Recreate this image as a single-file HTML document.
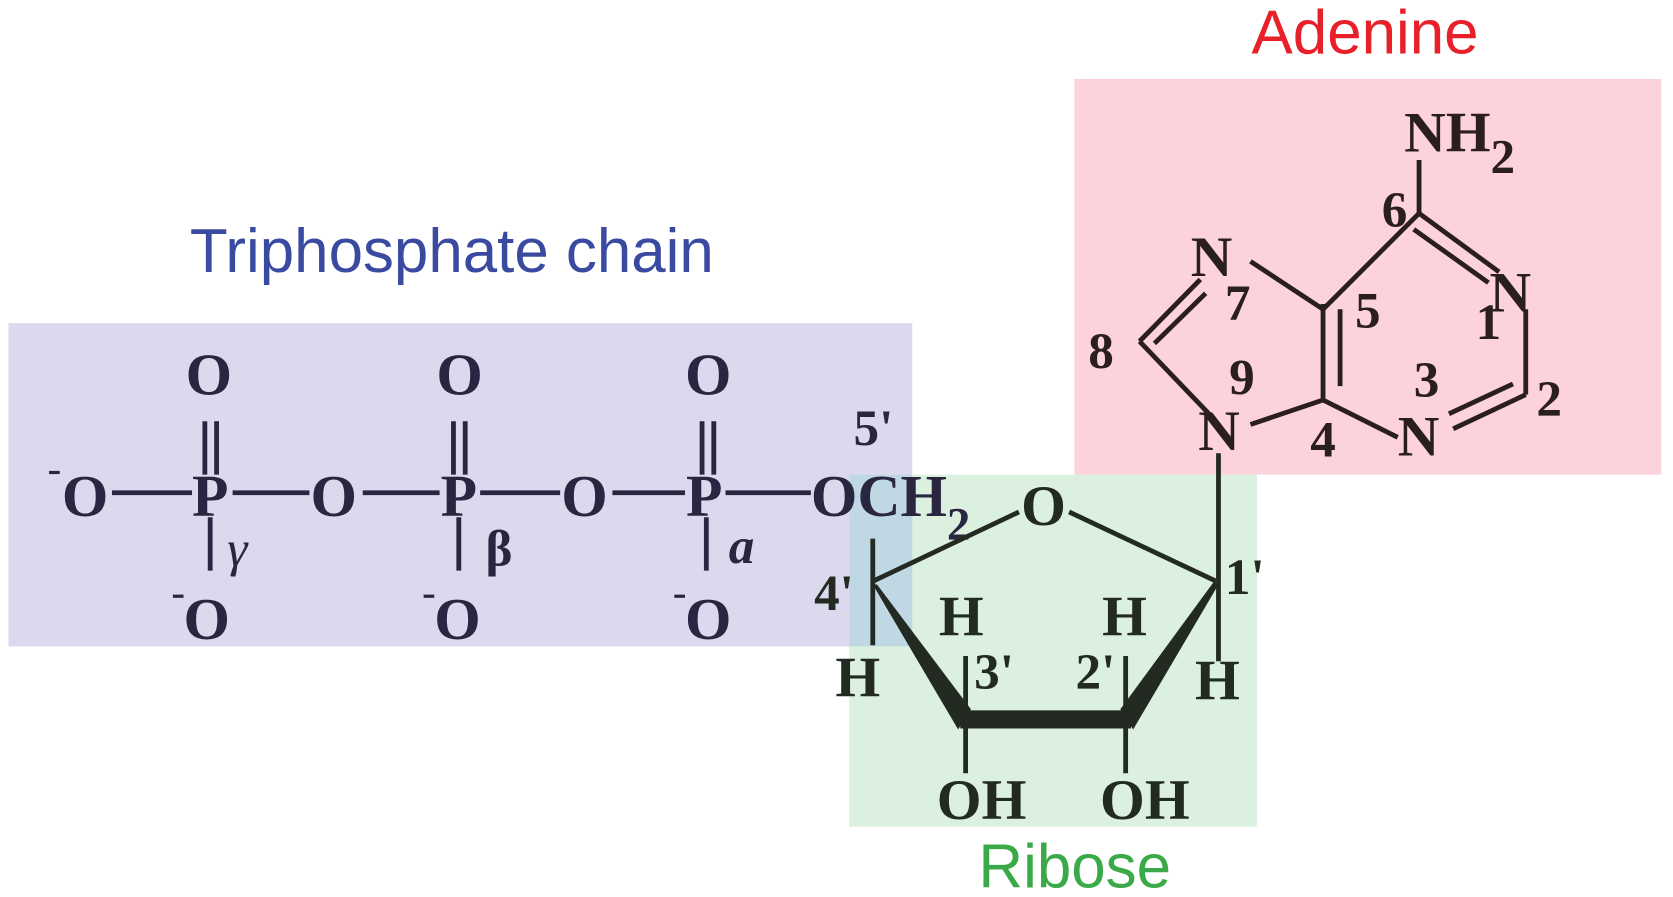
<!DOCTYPE html>
<html><head><meta charset="utf-8"><style>
html,body{margin:0;padding:0;background:#fff}
svg{display:block}
.c{font-family:"Liberation Serif",serif;font-weight:bold;font-size:56px;fill:#2a2540}
.r{font-family:"Liberation Serif",serif;font-weight:bold;font-size:54px;fill:#222a22}
.a{font-family:"Liberation Serif",serif;font-weight:bold;font-size:54px;fill:#2a1e20}
.t{font-family:"Liberation Sans",sans-serif;font-size:58px}
</style></head><body>
<svg width="1673" height="897" viewBox="0 0 1568 841" preserveAspectRatio="none">
<rect x="8" y="303" width="847" height="303" fill="#dcd8ee"/>
<rect x="1007" y="74" width="550" height="371" fill="#fcd3da"/>
<rect x="796" y="445" width="382" height="330" fill="#dbf0df"/>
<rect x="796" y="445" width="59" height="161" fill="#c0d8e4"/>
<text class="t" x="178" y="255" fill="#3a4aa0">Triphosphate chain</text>
<text class="t" x="1173" y="50" fill="#e8202a">Adenine</text>
<text class="t" x="917" y="832" fill="#3aaa48">Ribose</text>
<g stroke="#2a2540" stroke-width="4.5" fill="none">
<line x1="105" y1="462" x2="180" y2="462"/><line x1="218" y1="462" x2="290" y2="462"/>
<line x1="340" y1="462" x2="412" y2="462"/><line x1="450" y1="462" x2="525" y2="462"/>
<line x1="574" y1="462" x2="642" y2="462"/><line x1="680" y1="462" x2="760" y2="462"/>
<line x1="192" y1="395" x2="192" y2="445"/><line x1="203" y1="395" x2="203" y2="445"/>
<line x1="425" y1="395" x2="425" y2="445"/><line x1="436" y1="395" x2="436" y2="445"/>
<line x1="658" y1="395" x2="658" y2="445"/><line x1="669" y1="395" x2="669" y2="445"/>
<line x1="197" y1="485" x2="197" y2="535"/><line x1="430" y1="485" x2="430" y2="535"/><line x1="662" y1="485" x2="662" y2="535"/>
</g>
<g stroke="#2a2540" stroke-width="3">
<line x1="46" y1="443" x2="56" y2="443"/>
<line x1="162" y1="559" x2="172" y2="559"/>
<line x1="397" y1="559" x2="407" y2="559"/>
<line x1="632" y1="559" x2="642" y2="559"/>
</g>
<g class="c">
<text x="174" y="370">O</text><text x="409" y="370">O</text><text x="642" y="370">O</text>
<text x="58" y="484">O</text><text x="180" y="484">P</text><text x="291" y="484">O</text>
<text x="413" y="484">P</text><text x="526" y="484">O</text><text x="643" y="484">P</text>
<text x="760" y="484">OCH<tspan font-size="44" dy="22">2</tspan></text>
<text x="213" y="530" font-weight="normal" font-style="italic" font-size="48">γ</text>
<text x="455" y="530" font-size="48">β</text>
<text x="683" y="528" font-style="italic" font-size="48">a</text>
<text x="172" y="599">O</text><text x="407" y="599">O</text><text x="642" y="599">O</text>
<text x="800" y="417" font-size="48">5'</text>
</g>
<g stroke="#222a22" stroke-width="4.5" fill="none">
<line x1="818" y1="545" x2="955" y2="480"/><line x1="1002" y1="480" x2="1140" y2="545"/>
<line x1="818" y1="505" x2="818" y2="605"/><line x1="1142" y1="425" x2="1142" y2="620"/>
<line x1="905" y1="615" x2="905" y2="725"/><line x1="1055" y1="615" x2="1055" y2="725"/>
</g>
<polygon points="818,548 822,548 910,665 898,684" fill="#222a22"/>
<rect x="900" y="666" width="160" height="17" fill="#222a22"/>
<polygon points="1138,545 1142,548 1062,684 1050,665" fill="#222a22"/>
<g class="r">
<text x="957" y="492">O</text>
<text x="763" y="572" font-size="48">4'</text>
<text x="783" y="653">H</text><text x="880" y="596">H</text><text x="1033" y="596">H</text>
<text x="913" y="646" font-size="48">3'</text><text x="1008" y="646" font-size="48">2'</text>
<text x="1148" y="557" font-size="48">1'</text><text x="1120" y="656">H</text>
<text x="878" y="768">OH</text><text x="1031" y="768">OH</text>
</g>
<g stroke="#2a1e20" stroke-width="4.5" fill="none">
<line x1="1330" y1="200" x2="1330" y2="150"/>
<line x1="1330" y1="200" x2="1405" y2="255"/><line x1="1325" y1="215" x2="1395" y2="265"/>
<line x1="1430" y1="290" x2="1430" y2="370"/>
<line x1="1430" y1="370" x2="1362" y2="402"/><line x1="1418" y1="360" x2="1358" y2="388"/>
<line x1="1240" y1="375" x2="1310" y2="410"/>
<line x1="1240" y1="285" x2="1240" y2="375"/><line x1="1256" y1="290" x2="1256" y2="362"/>
<line x1="1240" y1="290" x2="1330" y2="200"/>
<line x1="1172" y1="245" x2="1240" y2="290"/>
<line x1="1172" y1="398" x2="1240" y2="375"/>
<line x1="1135" y1="390" x2="1068" y2="320"/>
<line x1="1068" y1="320" x2="1125" y2="262"/><line x1="1082" y1="322" x2="1130" y2="275"/>
</g>
<g class="a">
<text x="1316" y="142">NH<tspan font-size="46" dy="20">2</tspan></text>
<text x="1295" y="213" font-size="48">6</text>
<text x="1396" y="292">N</text><text x="1383" y="318" font-size="48">1</text>
<text x="1440" y="390" font-size="48">2</text>
<text x="1310" y="427">N</text><text x="1325" y="372" font-size="48">3</text>
<text x="1228" y="428" font-size="48">4</text>
<text x="1123" y="422">N</text><text x="1152" y="370" font-size="48">9</text>
<text x="1020" y="345" font-size="48">8</text>
<text x="1116" y="259">N</text><text x="1148" y="300" font-size="48">7</text>
<text x="1270" y="307" font-size="48">5</text>
</g>
</svg>
</body></html>
